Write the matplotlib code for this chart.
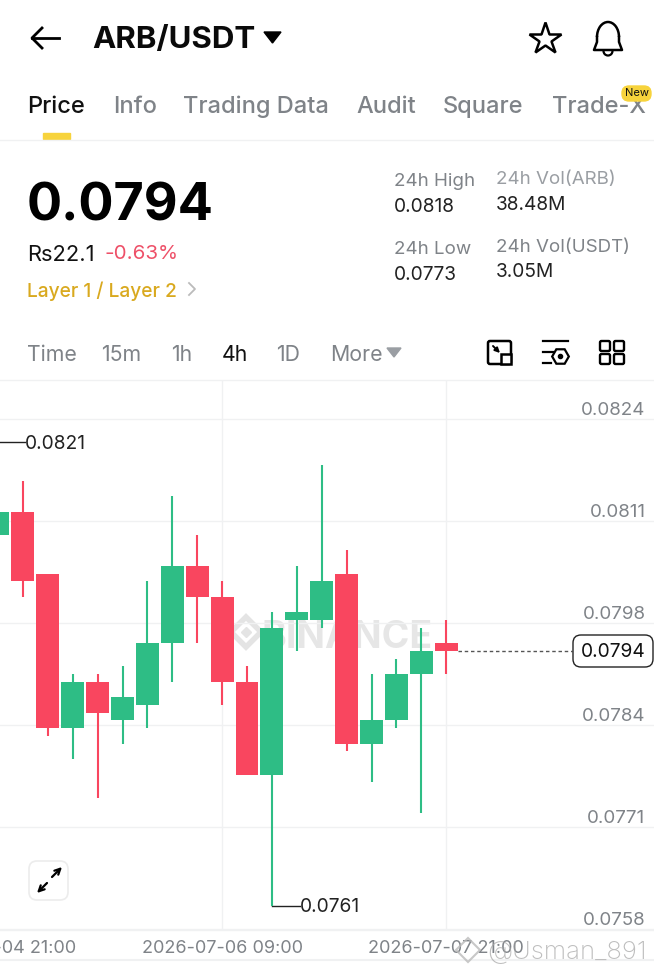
import numpy as np
import matplotlib
matplotlib.use('Agg')
import matplotlib.pyplot as plt
from matplotlib.patches import FancyBboxPatch, Rectangle, Polygon, Arc

plt.rcParams['font.family'] = ['Inter', 'DejaVu Sans']

# candles, left to right
opens = [0.08090, 0.08120, 0.08040, 0.07840, 0.07900, 0.07850, 0.07870, 0.07950, 0.08050, 0.08010,
         0.07900, 0.07779, 0.07980, 0.07980, 0.08040, 0.07820, 0.07850, 0.07910, 0.07950]
closes = [0.08120, 0.08030, 0.07840, 0.07900, 0.07860, 0.07880, 0.07950, 0.08050, 0.08010, 0.07900,
          0.07779, 0.07970, 0.07990, 0.08030, 0.07820, 0.07850, 0.07910, 0.07940, 0.07940]
highs = [0.08120, 0.08160, 0.08040, 0.07910, 0.07910, 0.07920, 0.08030, 0.08140, 0.08090, 0.08030,
         0.07920, 0.07990, 0.08050, 0.08180, 0.08070, 0.07910, 0.07929, 0.07970, 0.07980]
lows = [0.08090, 0.08010, 0.07830, 0.07800, 0.07750, 0.07819, 0.07840, 0.07900, 0.07950, 0.07870,
        0.07779, 0.07610, 0.07940, 0.07970, 0.07810, 0.07770, 0.07840, 0.07730, 0.07910]

grid_prices = [0.08240, 0.08108, 0.07976, 0.07844, 0.07712, 0.07580]
grid_labels = ['0.0824', '0.0811', '0.0798', '0.0784', '0.0771', '0.0758']
date_pos = [0, 9, 18]
date_labels = ['2026-07-04 21:00', '2026-07-06 09:00', '2026-07-07 21:00']
last_price = 0.0794

tabs = ['Price', 'Info', 'Trading Data', 'Audit', 'Square', 'Trade-X']
tab_x = [27, 113, 183, 356, 443, 552]
periods = ['Time', '15m', '1h', '4h', '1D', 'More']
period_x = [27, 101, 171, 222, 276, 330]

GREEN = '#2EBD85'
RED = '#F9465F'
GRID = '#F0F1F2'
GREY = '#7F8388'
LIGHT = '#9A9EA3'

fig = plt.figure(figsize=(6.54, 9.74), dpi=100)

# page overlay in pixel coords
ui = fig.add_axes([0, 0, 1, 1])
ui.set_xlim(0, 654)
ui.set_ylim(974, 0)
ui.axis('off')

# header
ui.plot([32, 59], [38, 38], color='k', lw=2)
ui.plot([42, 32, 42], [28, 38, 48], color='k', lw=2)
ui.text(92, 40, 'ARB/USDT', fontsize=22.5, fontweight='bold', va='center', color='#0A0A0A')
ui.add_patch(Polygon([[264, 32], [281, 32], [272.5, 43]], color='k'))
ui.plot([545], [39], marker='*', ms=24, mfc='none', mec='k', mew=1.8)
ui.add_patch(Arc((608, 37), 22, 30, theta1=180, theta2=360, color='k', lw=1.8))
ui.plot([597, 597, 594, 622, 619, 619], [37, 42, 50, 50, 42, 37], color='k', lw=1.8)
ui.add_patch(Arc((608, 51), 9, 9, theta1=0, theta2=180, color='k', lw=1.6))

# tabs
for i, t in enumerate(tabs):
    ui.text(tab_x[i], 107, t, fontsize=17, va='center', color='#111111' if i == 0 else GREY,
            fontweight='medium')
ui.add_patch(Rectangle((43, 133), 27, 6, color='#F7D33C'))
ui.plot([0, 654], [139.5, 139.5], color=GRID, lw=1)
ui.add_patch(FancyBboxPatch((622, 86), 29, 15, boxstyle='round,pad=0,rounding_size=7', color='#F7D33C',
                            zorder=3))
ui.text(636.5, 93.5, 'New', fontsize=8, ha='center', va='center', color='#111111', zorder=4)

# price block
ui.text(27, 207, '0.0794', fontsize=37.5, fontweight='bold', va='center', color='k')
ui.text(27, 255, 'Rs22.1', fontsize=15.8, va='center', color='#111111')
ui.text(105, 254, '-0.63%', fontsize=14.8, va='center', color='#EE5068')
ui.text(27, 291, 'Layer 1 / Layer 2', fontsize=13.8, va='center', color='#D9A91F', fontweight='medium')
ui.plot([189, 195, 189], [283, 289, 295], color='#BBBBBB', lw=1.3)

ui.text(394, 181, '24h High', fontsize=13.5, va='center', color=GREY)
ui.text(394, 207, '0.0818', fontsize=13.8, va='center', color='#222222')
ui.text(394, 249, '24h Low', fontsize=13.5, va='center', color=GREY)
ui.text(394, 275, '0.0773', fontsize=13.8, va='center', color='#222222')
ui.text(496, 179, '24h Vol(ARB)', fontsize=13.5, va='center', color=LIGHT)
ui.text(496, 205, '38.48M', fontsize=13.8, va='center', color='#222222')
ui.text(496, 247, '24h Vol(USDT)', fontsize=13.5, va='center', color=GREY)
ui.text(496, 272, '3.05M', fontsize=13.8, va='center', color='#222222')

# period selector
for i, t in enumerate(periods):
    ui.text(period_x[i], 355, t, fontsize=15.3, va='center', color='#111111' if t == '4h' else GREY)
ui.add_patch(Polygon([[387, 348], [401, 348], [394, 357]], color=LIGHT))

# tool icons
ui.add_patch(FancyBboxPatch((488, 341), 23, 23, boxstyle='round,pad=0,rounding_size=2', fc='none', ec='k', lw=1.8))
ui.add_patch(Rectangle((501, 354), 10, 10, fc='white', ec='k', lw=1.8))
ui.annotate('', xy=(500, 353), xytext=(493, 346),
            arrowprops=dict(arrowstyle='-|>', color='k', lw=1.4, shrinkA=0, shrinkB=0, mutation_scale=7))
ui.plot([543, 568], [341, 341], color='k', lw=1.6)
ui.plot([543, 553], [352, 352], color='k', lw=1.6)
ui.plot([543, 551], [363, 363], color='k', lw=1.6)
ui.plot([560], [356], marker='H', ms=12, mfc='none', mec='k', mew=1.6)
ui.plot([560], [356], marker='o', ms=3, color='k')
for bx in (600, 614):
    for by in (341, 354):
        ui.add_patch(FancyBboxPatch((bx, by), 10, 10, boxstyle='round,pad=0,rounding_size=1.5',
                                    fc='none', ec='k', lw=1.7))

# BINANCE watermark sits under the candles
ui.plot([246], [632], marker='D', ms=15, mfc='none', mec='#E4E4E4', mew=4)
ui.plot([246], [632], marker='D', ms=5, color='#E4E4E4')
ui.text(262, 638, 'BINANCE', fontsize=27, fontweight='bold', va='center', color='#E6E6E6')

# chart axes, limits chosen so candle 0 sits at x=-2px and 18 at x=446px
ax = fig.add_axes([0, (974 - 930) / 974, 1, 550 / 974])
ax.patch.set_alpha(0)
for s in ax.spines.values():
    s.set_visible(False)

x = np.arange(len(opens))
o = np.array(opens)
c = np.array(closes)
colors = [GREEN if c[i] > o[i] else RED for i in x]
ax.vlines(x, lows, highs, colors=colors, lw=1.5, zorder=3)
ax.bar(x, np.abs(c - o), bottom=np.minimum(o, c), width=0.92, color=colors, zorder=4)

ax.set_yticks(grid_prices)
ax.set_yticklabels([])
# first date tick is just off the left edge, so it is drawn as a clipped-by-figure label
ax.set_xticks(date_pos[1:])
ax.set_xticklabels(date_labels[1:], fontsize=13, color=GREY)
ax.tick_params(length=0, pad=7)
ax.grid(True, color=GRID, lw=1, zorder=0)
ax.set_xlim(0.08, 26.345)
ax.set_ylim(0.075788, 0.082905)
ax.annotate(date_labels[0], xy=(date_pos[0], 0), xycoords=ax.get_xaxis_transform(), xytext=(0, -7),
            textcoords='offset points', ha='center', va='top', fontsize=13, color=GREY,
            annotation_clip=False)
for p, lab in zip(grid_prices, grid_labels):
    ax.text(0.987, p, lab, transform=ax.get_yaxis_transform(), ha='right', va='bottom',
            fontsize=13.5, color=GREY)

# high / low callouts
ax.plot([-1, 1.08], [0.0821, 0.0821], color='#222222', lw=1)
ax.text(1.08, 0.08208, '0.0821', fontsize=13.8, va='center', color='#222222')
ax.plot([11, 12.13], [0.0761, 0.0761], color='#222222', lw=1)
ax.text(12.13, 0.07608, '0.0761', fontsize=13.8, va='center', color='#222222')

# last price line and tag
ax.plot([18.47, 23.05], [last_price, last_price], color='#555555', lw=1, ls=(0, (2.5, 2)))
ax.text(0.9373, last_price - 0.00002, '%.4f' % last_price, transform=ax.get_yaxis_transform(), ha='center',
        va='center', fontsize=13.8, color='#111111', zorder=6)

# top overlay
top = fig.add_axes([0, 0, 1, 1])
top.set_xlim(0, 654)
top.set_ylim(974, 0)
top.axis('off')
top.plot([0, 654], [380, 380], color=GRID, lw=1)
top.plot([0, 654], [930, 930], color=GRID, lw=1)
top.plot([0, 654], [960, 960], color=GRID, lw=1.5)
top.add_patch(FancyBboxPatch((573, 635), 80, 32, boxstyle='round,pad=0,rounding_size=8', fc='none', ec='#222222', lw=1))
top.add_patch(FancyBboxPatch((29, 861), 39, 39, boxstyle='round,pad=0,rounding_size=8', fc='white', ec='#ECECEC', lw=1.2))
top.annotate('', xy=(37, 893), xytext=(47, 883),
             arrowprops=dict(arrowstyle='->', color='k', lw=1.6, shrinkA=0, shrinkB=0))
top.annotate('', xy=(62, 867), xytext=(52, 877),
             arrowprops=dict(arrowstyle='->', color='k', lw=1.6, shrinkA=0, shrinkB=0))
top.plot([468], [950], marker='D', ms=12, mfc='none', mec='#BBBBBB', mew=1.5, alpha=0.8)
top.text(487, 952, '@Usman_891', fontsize=18.5, va='center', color='#A8A8A8', alpha=0.75, fontweight='light')

fig.savefig('out.png', dpi=100)
